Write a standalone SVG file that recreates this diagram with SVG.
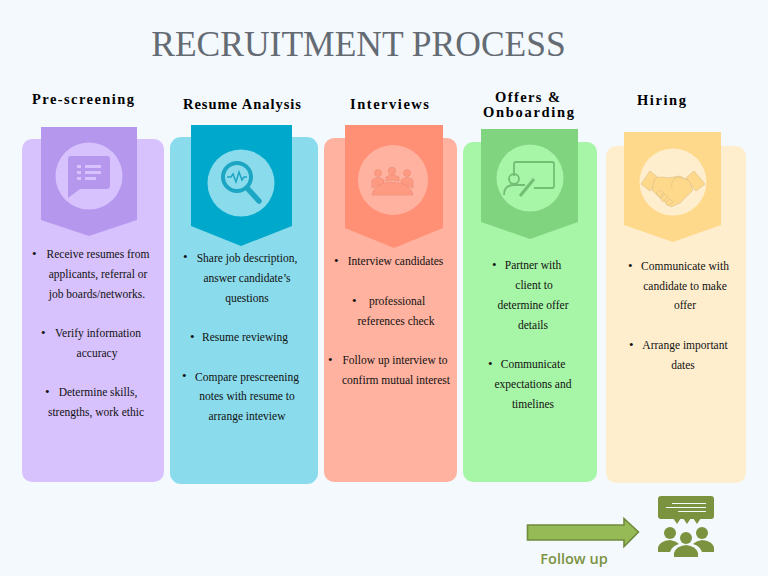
<svg xmlns="http://www.w3.org/2000/svg" width="768" height="576" viewBox="0 0 768 576">
<style>
.h{font:bold 14.5px "Liberation Serif",serif;fill:#000;text-anchor:middle}
.b{font:11.5px "Liberation Serif",serif;fill:#111;text-anchor:middle}
.d{font:13px "Liberation Serif",serif;fill:#111}
</style>
<rect width="768" height="576" fill="#f4f9fe"/>
<text x="358.500" y="56" font-family="Liberation Serif,serif" font-size="35.500" fill="#646b73" text-anchor="middle">RECRUITMENT PROCESS</text>

<g id="node-prescreening">
<rect x="22" y="139" width="142" height="343" rx="10" fill="#d7c2fd"/>
<path d="M41 127H137V220L89 236L41 220Z" fill="#b697ee"/>
<circle cx="89" cy="176" r="33.500" fill="#d7c2fd"/>
<path d="M71 156H107Q110 156 110 159V186Q110 189 107 189H80L68 198V159Q68 156 71 156Z" fill="#b697ee"/>
<path d="M77 165h4v3h-4zM77 171h4v3h-4zM77 177h4v3h-4zM85 165h16v3H85zM85 171h16v3H85zM85 177h11v3H85z" fill="#d7c2fd"/>
<text class="h" x="83" y="104" textLength="102">Pre-screening</text>
<text class="d" x="32" y="258">•</text>
<text class="b" x="98" y="258">Receive resumes from</text>
<text class="b" x="98" y="278">applicants, referral or</text>
<text class="b" x="97" y="298">job boards/networks.</text>
<text class="d" x="41" y="337">•</text>
<text class="b" x="98" y="337">Verify information</text>
<text class="b" x="97" y="357">accuracy</text>
<text class="d" x="45" y="396">•</text>
<text class="b" x="98" y="396">Determine skills,</text>
<text class="b" x="96" y="416">strengths, work ethic</text>
</g>

<g id="node-resume-analysis">
<rect x="170" y="137" width="148" height="347" rx="11" fill="#8adcec"/>
<path d="M191 125H292V226L241 246L191 226Z" fill="#00a9cb"/>
<circle cx="241" cy="183" r="33.500" fill="#8adcec"/>
<circle cx="237" cy="177" r="14" fill="none" stroke="#1da5c4" stroke-width="4"/>
<path d="M227 177h4l2-3 3 8 3-10 3 8 2-3h3" fill="none" stroke="#1da5c4" stroke-width="1.500"/>
<path d="M248 189L259 201" stroke="#1da5c4" stroke-width="5.500" stroke-linecap="round"/>
<text class="h" x="242" y="109" textLength="118">Resume Analysis</text>
<text class="d" x="183" y="261">•</text>
<text class="b" x="247" y="262">Share job description,</text>
<text class="b" x="247" y="282">answer candidate’s</text>
<text class="b" x="247" y="302">questions</text>
<text class="d" x="190" y="341">•</text>
<text class="b" x="245" y="341">Resume reviewing</text>
<text class="d" x="182" y="380">•</text>
<text class="b" x="247" y="381">Compare prescreening</text>
<text class="b" x="247" y="400">notes with resume to</text>
<text class="b" x="247" y="420">arrange inteview</text>
</g>

<g id="node-interviews">
<rect x="324" y="138" width="133" height="344" rx="10" fill="#ffb2a0"/>
<path d="M345 125H443V228L394 248L345 228Z" fill="#ff9076"/>
<circle cx="393" cy="180" r="35" fill="#ffb2a0"/>
<g fill="#ff9a82" stroke="#e88c76" stroke-width=".6">
<circle cx="378" cy="173" r="3.500"/><circle cx="392" cy="171" r="3.700"/><circle cx="407" cy="173" r="3.500"/>
<path d="M372 188V180Q378 175 384 180V183Q378 185 372 188Z"/>
<path d="M386 181V177Q392 173 399 177V181Q392 179 386 181Z"/>
<path d="M413 188V180Q407 175 401 180V183Q407 185 413 188Z"/>
<path d="M372 195Q374 183 392 182Q411 183 413 195Z"/>
</g>
<text class="h" x="389.500" y="109" textLength="79">Interviews</text>
<text class="d" x="334" y="265">•</text>
<text class="b" x="395.500" y="265">Interview candidates</text>
<text class="d" x="352" y="305">•</text>
<text class="b" x="397" y="305">professional</text>
<text class="b" x="396" y="325">references check</text>
<text class="d" x="328" y="364">•</text>
<text class="b" x="395" y="364">Follow up interview  to</text>
<text class="b" x="396" y="384">confirm mutual interest</text>
</g>

<g id="node-offers">
<rect x="463" y="142" width="134" height="340" rx="10" fill="#a7f5a7"/>
<path d="M481 129H578V222L530 239L481 222Z" fill="#80d37f"/>
<circle cx="530" cy="178" r="33.500" fill="#a7f5a7"/>
<g fill="none" stroke="#73bd75" stroke-width="1.800">
<path d="M514 176V164Q514 162 516 162H552Q554 162 554 164V186Q554 188 552 188H534"/>
<circle cx="514" cy="179" r="5"/>
<path d="M504 195Q504 185 514 185H525"/>
<path d="M520 196L534 179" stroke-width="3"/>
</g>
<text class="h" x="527.500" y="102" textLength="65">Offers &amp;</text>
<text class="h" x="528.500" y="117" textLength="91">Onboarding</text>
<text class="d" x="492" y="269">•</text>
<text class="b" x="533" y="269">Partner with</text>
<text class="b" x="534" y="289">client to</text>
<text class="b" x="533" y="309">determine offer</text>
<text class="b" x="533" y="329">details</text>
<text class="d" x="488" y="368">•</text>
<text class="b" x="533" y="368">Communicate</text>
<text class="b" x="533" y="388">expectations and</text>
<text class="b" x="533" y="408">timelines</text>
</g>

<g id="node-hiring">
<rect x="606" y="146" width="140" height="337" rx="10" fill="#ffeecd"/>
<path d="M624 132H721V225L673 242L624 225Z" fill="#ffd98b"/>
<circle cx="673" cy="182" r="33.500" fill="#ffeecd"/>
<g fill="#ffd98b" stroke="#d8be88" stroke-width=".6">
<path d="M641 184L650 171L659 178L650 191Z"/>
<path d="M705 184L694 171L686 178L696 191Z"/>
<path d="M655 178Q662 176 668 178L680 176L689 181L693 190L680 203L671 207L665 202L658 196L652 190Z"/>
<path d="M672 188Q670 180 678 177L688 180"/>
<path d="M656 193l5-3 3 3-5 4zM660 198l5-4 3 3-5 5zM665 203l5-4 3 3-5 4z"/>
</g>
<text class="h" x="661.500" y="105" textLength="49">Hiring</text>
<text class="d" x="628" y="270">•</text>
<text class="b" x="685" y="270">Communicate with</text>
<text class="b" x="685" y="290">candidate to make</text>
<text class="b" x="685" y="309">offer</text>
<text class="d" x="629" y="349">•</text>
<text class="b" x="685" y="349">Arrange important</text>
<text class="b" x="683" y="369">dates</text>
</g>

<g id="connectors">
<path d="M527.500 525H624V518.500L638.500 532L624 546.500V540H527.500Z" fill="#95ba56" stroke="#6f8a3d" stroke-width="1.600"/>
</g>

<g id="node-follow-up">
<rect x="658" y="496" width="56" height="23" rx="3" fill="#7b933f"/>
<path d="M673 518l4 6 4-6zM683 518l4 6 4-6zM693 518l4 6 4-6z" fill="#7b933f"/>
<path d="M672 503.500H706M666 507.500H706M678 511.500H706" stroke="#f4f9fe" stroke-width="1"/>
<g fill="#7b933f">
<circle cx="670" cy="533" r="6"/><circle cx="702" cy="533" r="6"/><circle cx="686" cy="538" r="6"/>
<path d="M658 552V547Q660 541 670 540Q676 541 679 544Q672 546 670 552Z"/>
<path d="M714 552V547Q712 541 702 540Q696 541 693 544Q700 546 702 552Z"/>
<path d="M674 557V553Q676 546 686 545Q696 546 698 553V557Z"/>
</g>
<text x="574" y="564" font-family="Open Sans,sans-serif" font-size="14.500" font-weight="600" fill="#7b933f" text-anchor="middle">Follow up</text>
</g>
</svg>
